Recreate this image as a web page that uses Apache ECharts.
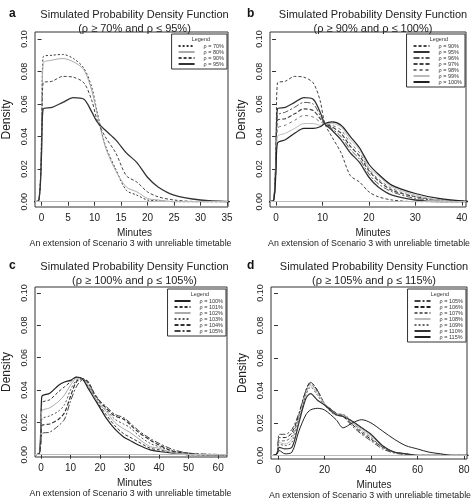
<!DOCTYPE html>
<html>
<head>
<meta charset="utf-8">
<script src="https://cdn.jsdelivr.net/npm/echarts@6/dist/echarts.min.js"></script>
<style>html,body{margin:0;padding:0;background:#fff}#main{width:474px;height:499px}</style>
</head>
<body>
<div id="main"></div>
<script>
// panel a: rho 70% .. 95%
var xA = [-1.5,-0.5,0,0.3,2,4,6,8,9.5,10.5,12,14,16,18,20,22,25,30,36];
var a70 = [0,0.001,0.04,0.089,0.090,0.0905,0.088,0.082,0.07,0.055,0.035,0.02,0.007,0.004,0.001,0.0005,0,0,0];
var a80 = [0,0.001,0.04,0.085,0.087,0.088,0.086,0.081,0.068,0.054,0.034,0.019,0.009,0.006,0.002,0.001,0,0,0];
var a90 = [0,0.001,0.035,0.073,0.074,0.077,0.0765,0.073,0.062,0.05,0.04,0.03,0.016,0.012,0.006,0.003,0.001,0,0];
var a95 = [0,0.001,0.03,0.057,0.058,0.061,0.064,0.063,0.055,0.049,0.044,0.038,0.03,0.024,0.015,0.009,0.004,0.001,0];
// panel b: rho 90% .. 100%
var xB = [-1.5,-0.5,0,0.3,2,4,6,8,9.5,10.5,12,14,16,18,20,22,25,30,35,42];
var b90 = [0,0.001,0.035,0.073,0.074,0.077,0.0765,0.073,0.062,0.048,0.04,0.03,0.016,0.012,0.006,0.003,0.001,0,0,0];
var b95 = [0,0.001,0.03,0.057,0.058,0.061,0.064,0.063,0.055,0.048,0.044,0.038,0.03,0.024,0.015,0.009,0.004,0.001,0,0];
var b96 = [0,0.001,0.028,0.053,0.055,0.058,0.061,0.060,0.053,0.048,0.045,0.04,0.032,0.026,0.017,0.011,0.006,0.002,0.001,0];
var b97 = [0,0.001,0.026,0.050,0.051,0.054,0.057,0.056,0.051,0.048,0.046,0.042,0.034,0.028,0.019,0.013,0.007,0.003,0.001,0];
var b98 = [0,0.001,0.024,0.045,0.047,0.050,0.053,0.052,0.049,0.048,0.047,0.044,0.036,0.030,0.020,0.014,0.008,0.003,0.001,0];
var b99 = [0,0.001,0.022,0.040,0.042,0.045,0.048,0.048,0.047,0.048,0.048,0.046,0.038,0.032,0.021,0.016,0.009,0.004,0.001,0];
var b100 = [0,0.001,0.02,0.036,0.038,0.042,0.045,0.045,0.046,0.048,0.049,0.047,0.040,0.033,0.023,0.017,0.010,0.005,0.002,0];
// panel c: rho 100% .. 105%
var xC = [-1.5,-0.5,0,0.3,3,6,8,10,12,14,16,18,20,22,25,28,30,33,37,40,45,50,55,63];
var c100 = [0,0.001,0.02,0.036,0.038,0.043,0.045,0.046,0.048,0.047,0.041,0.035,0.029,0.023,0.016,0.011,0.009,0.006,0.003,0.002,0.001,0,0,0];
var c101 = [0,0.001,0.018,0.032,0.034,0.039,0.042,0.045,0.048,0.047,0.042,0.036,0.03,0.025,0.018,0.013,0.011,0.008,0.004,0.003,0.001,0,0,0];
var c102 = [0,0.001,0.015,0.027,0.029,0.033,0.037,0.043,0.047,0.047,0.043,0.036,0.031,0.027,0.02,0.016,0.014,0.010,0.005,0.004,0.001,0.0005,0,0];
var c103 = [0,0.001,0.012,0.022,0.024,0.027,0.031,0.04,0.046,0.047,0.044,0.037,0.032,0.028,0.022,0.019,0.017,0.012,0.007,0.005,0.002,0.001,0,0];
var c104 = [0,0.001,0.01,0.018,0.019,0.022,0.026,0.036,0.045,0.047,0.045,0.038,0.033,0.029,0.024,0.022,0.019,0.014,0.009,0.006,0.002,0.001,0,0];
var c105 = [0,0.001,0.007,0.013,0.014,0.018,0.022,0.033,0.042,0.046,0.045,0.038,0.033,0.030,0.025,0.023,0.020,0.015,0.010,0.007,0.003,0.001,0.0005,0];
// panel d: rho 105% .. 115%
var xD = [-2,-0.5,0,0.5,3,6,9,12,14,17,20,25,28,32,36,40,45,50,55,60,65,70,75,82];
var d105 = [0,0.001,0.007,0.013,0.013,0.016,0.026,0.040,0.045,0.040,0.032,0.026,0.024,0.018,0.013,0.009,0.004,0.0015,0.0005,0,0,0,0,0];
var d106 = [0,0.001,0.006,0.011,0.011,0.014,0.025,0.040,0.045,0.040,0.032,0.026,0.024,0.019,0.014,0.010,0.005,0.002,0.001,0,0,0,0,0];
var d107 = [0,0.001,0.005,0.009,0.009,0.012,0.024,0.039,0.044,0.039,0.032,0.026,0.025,0.020,0.015,0.011,0.005,0.002,0.001,0,0,0,0,0];
var d108 = [0,0.001,0.004,0.008,0.007,0.010,0.023,0.038,0.043,0.038,0.032,0.025,0.025,0.020,0.016,0.012,0.006,0.002,0.001,0,0,0,0,0];
var d109 = [0,0.001,0.003,0.007,0.006,0.008,0.022,0.037,0.042,0.037,0.031,0.025,0.025,0.021,0.017,0.013,0.006,0.002,0.001,0,0,0,0,0];
var d110 = [0,0.001,0.003,0.005,0.004,0.005,0.020,0.035,0.038,0.034,0.031,0.025,0.024,0.021,0.017,0.013,0.006,0.002,0.001,0,0,0,0,0];
var d115 = [0,0.001,0.002,0.003,0.001,0.002,0.015,0.025,0.028,0.029,0.028,0.022,0.017,0.020,0.022,0.020,0.015,0.010,0.006,0.004,0.002,0.001,0,0];

var FONT = '"Liberation Sans", Arial, sans-serif';

// line styles: [colour, dash type, width]
var styles = {
  '70%': ['#333', [2,2], 1], '80%': ['#aaa', 'solid', 1], '90%': ['#444', [3,2], 1], '95%': ['#333', 'solid', 1.3],
  '96%': ['#555', [6,2,2,2], 1], '97%': ['#444', [4,2], 1.2], '98%': ['#777', [3,3], 1], '99%': ['#bbb', 'solid', 1],
  '100%': ['#222', 'solid', 1.2], '101%': ['#333', [3,2], 1], '102%': ['#aaa', 'solid', 1], '103%': ['#555', [2,2], 1],
  '104%': ['#333', [4,2], 1.2], '105%': ['#444', [6,2,2,2], 1], '106%': ['#222', [4,2], 1], '107%': ['#666', [3,2], 1],
  '108%': ['#bbb', 'solid', 1], '109%': ['#666', [2,2], 1], '110%': ['#333', 'solid', 1.2], '115%': ['#222', 'solid', 1]
};

var panels = [
  {letter: 'a', sub: '(ρ ≥ 70% and ρ ≤ 95%)', x: xA, keys: ['70%','80%','90%','95%'], ys: [a70,a80,a90,a95],
   grid: {left: 31, top: 32, width: 197, height: 175}, xmin: -1.24, xmax: 35.2, split: 7, ymin: -0.0033, ymax: 0.1043},
  {letter: 'b', sub: '(ρ ≥ 90% and ρ ≤ 100%)', x: xB, keys: ['90%','95%','96%','97%','98%','99%','100%'], ys: [b90,b95,b96,b97,b98,b99,b100],
   grid: {left: 270, top: 32, width: 196, height: 175}, xmin: -1.3, xmax: 40.9, split: 4, ymin: -0.0033, ymax: 0.1043},
  {letter: 'c', sub: '(ρ ≥ 100% and ρ ≤ 105%)', x: xC, keys: ['100%','101%','102%','103%','104%','105%'], ys: [c100,c101,c102,c103,c104,c105],
   grid: {left: 32, top: 287, width: 195, height: 170}, xmin: -2, xmax: 63, split: 6, ymin: -0.0014, ymax: 0.1037},
  {letter: 'd', sub: '(ρ ≥ 105% and ρ ≤ 115%)', x: xD, keys: ['105%','106%','107%','108%','109%','110%','115%'], ys: [d105,d106,d107,d108,d109,d110,d115],
   grid: {left: 271, top: 287, width: 196, height: 172}, xmin: -3, xmax: 81.3, split: 4, ymin: -0.0022, ymax: 0.1037}
];

var option = {animation: false, grid: [], xAxis: [], yAxis: [], series: [], legend: [], graphic: [], title: []};

panels.forEach(function (p, i) {
  var g = p.grid;
  var cx = g.left + g.width / 2;
  option.grid.push({left: g.left, top: g.top, width: g.width, height: g.height, show: true, borderColor: '#333', borderWidth: 1, backgroundColor: '#fff'});
  option.xAxis.push({
    type: 'value', gridIndex: i, min: p.xmin, max: p.xmax, splitNumber: p.split,
    axisLine: {show: false}, splitLine: {show: false},
    axisTick: {show: true, length: 4, lineStyle: {color: '#333'}},
    axisLabel: {color: '#222', fontSize: 10, fontFamily: FONT, margin: 6, showMinLabel: false, showMaxLabel: false}
  });
  option.yAxis.push({
    type: 'value', gridIndex: i, min: p.ymin, max: p.ymax, splitNumber: 5,
    name: 'Density', nameLocation: 'middle', nameGap: 22, nameRotate: 90,
    nameTextStyle: {color: '#222', fontSize: 12, fontFamily: FONT},
    axisLine: {show: false}, splitLine: {show: false},
    axisTick: {show: true, length: 4, lineStyle: {color: '#333'}},
    axisLabel: {color: '#222', fontSize: 9, fontFamily: FONT, rotate: 90, margin: 6,
      showMinLabel: false, showMaxLabel: false, formatter: function (v) { return v.toFixed(2); }}
  });
  var names = [];
  p.keys.forEach(function (k, j) {
    var st = styles[k];
    var name = 'ρ = ' + k;
    names.push(name);
    var s = {
      name: name, type: 'line', xAxisIndex: i, yAxisIndex: i, smooth: 0.3, symbol: 'none',
      lineStyle: {color: st[0], type: st[1], width: st[2]}, itemStyle: {color: st[0]},
      data: p.x.map(function (xv, n) { return [xv, p.ys[j][n]]; })
    };
    if (j === 0) {
      s.markLine = {silent: true, symbol: 'none', label: {show: false},
        lineStyle: {color: '#bbb', type: 'solid', width: 1}, data: [{yAxis: 0}]};
    }
    option.series.push(s);
  });
  var right = 474 - (g.left + g.width) + 1;
  option.legend.push({
    data: names, orient: 'vertical', right: right, top: g.top + 2,
    padding: [9, 3, 2, 6], itemGap: 0, itemWidth: 16, itemHeight: 6,
    itemStyle: {opacity: 0},
    borderColor: '#333', borderWidth: 1, backgroundColor: '#fff',
    textStyle: {fontSize: 5.5, color: '#333', fontFamily: FONT, padding: [0, 0, 0, 4]}
  });
  option.graphic.push({type: 'text', right: right + 17, top: g.top + 4, z: 100,
    style: {text: 'Legend', fontSize: 5.5, fill: '#333', font: '5.5px ' + FONT}});
  var ty = i < 2 ? 4 : 256;
  option.title.push({text: 'Simulated Probability Density Function', left: cx, top: ty, textAlign: 'center',
    textStyle: {fontSize: 11, fontWeight: 'normal', color: '#222', fontFamily: FONT}});
  option.title.push({text: p.sub, left: cx, top: ty + 14, textAlign: 'center',
    textStyle: {fontSize: 11, fontWeight: 'normal', color: '#222', fontFamily: FONT}});
  option.title.push({text: p.letter, left: i % 2 === 0 ? 4 : 242, top: ty - 1,
    textStyle: {fontSize: 12, fontWeight: 'bold', color: '#111', fontFamily: FONT}});
  var by = g.top + g.height + 16;
  option.title.push({text: 'Minutes', left: cx, top: by, textAlign: 'center',
    textStyle: {fontSize: 10, fontWeight: 'normal', color: '#222', fontFamily: FONT}});
  option.title.push({text: 'An extension of Scenario 3 with unreliable timetable', left: g.left + g.width / 2 - 4, top: by + 11, textAlign: 'center',
    textStyle: {fontSize: 8.8, fontWeight: 'normal', color: '#222', fontFamily: FONT}});
});

var myChart = echarts.init(document.getElementById('main'));
myChart.setOption(option);
</script>
</body>
</html>
